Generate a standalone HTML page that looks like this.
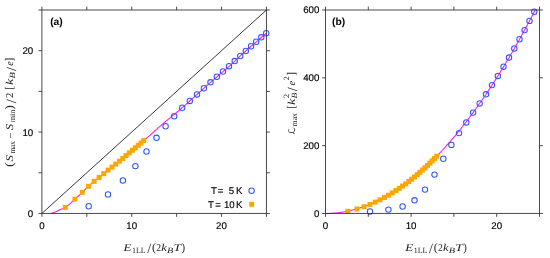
<!DOCTYPE html>
<html lang="en"><head><meta charset="utf-8"><title>Figure</title>
<style>html,body{margin:0;padding:0;background:#fff;}svg{display:block;}text{text-rendering:geometricPrecision;}.t{font-family:"Liberation Sans",sans-serif;font-size:9.7px;fill:#000;stroke:#000;stroke-width:0.15px;}.b{font-family:"Liberation Sans",sans-serif;font-size:10.3px;font-weight:bold;fill:#000;}.m{font-family:"Liberation Serif",serif;font-size:10.5px;fill:#222;}.i{font-style:italic;}.s{font-size:8px;}.p{font-size:11.7px;}.q{font-size:14px;}.c{font-family:"DejaVu Sans",sans-serif;font-size:9.5px;}</style></head><body>
<svg width="550" height="258" viewBox="0 0 550 258">
<rect width="550" height="258" fill="#ffffff"/>
<g>
<polyline points="51.2,213.4 52.1,213.1 53.0,212.8 53.9,212.5 54.8,212.2 55.7,211.8 56.6,211.4 57.5,211.0 58.4,210.5 59.3,210.1 60.2,209.7 61.1,209.3 62.0,208.9 62.9,208.6 63.8,208.2 64.7,207.7 65.6,207.2 66.5,206.6 67.4,205.9 68.3,205.2 69.2,204.5 70.1,203.7 71.0,202.9 71.9,202.0 72.8,201.2 73.7,200.4 74.6,199.6 75.5,198.8 76.3,198.0 77.2,197.1 78.1,196.3 79.0,195.5 79.9,194.6 80.8,193.8 81.7,192.9 82.6,192.1 83.5,191.2 84.4,190.3 85.3,189.4 86.2,188.5 87.1,187.7 88.0,186.8 88.9,186.0 89.8,185.2 90.7,184.4 91.6,183.6 92.5,182.8 93.4,182.0 94.3,181.3 95.2,180.5 96.1,179.8 97.0,179.1 97.9,178.4 98.8,177.7 99.7,177.0 100.6,176.2 101.5,175.5 102.4,174.8 103.3,174.1 104.1,173.3 105.0,172.6 105.9,171.8 106.8,171.0 107.7,170.3 108.6,169.6 109.5,168.9 110.4,168.3 111.3,167.6 112.2,166.9 113.1,166.2 114.0,165.5 114.9,164.8 115.8,164.1 116.7,163.3 117.6,162.6 118.5,161.9 119.4,161.2 120.3,160.4 121.2,159.7 122.1,159.0 123.0,158.2 123.9,157.5 124.8,156.7 125.7,156.0 126.6,155.2 127.5,154.5 128.4,153.7 129.3,153.0 130.2,152.2 131.0,151.4 131.9,150.7 132.8,149.9 133.7,149.1 134.6,148.4 135.5,147.6 136.4,146.8 137.3,146.1 138.2,145.3 139.1,144.5 140.0,143.8 140.9,143.0 141.8,142.2 142.7,141.5 143.6,140.7 144.5,139.9 145.4,139.2 146.3,138.4 147.2,137.6 148.1,136.8 149.0,136.1 149.9,135.3 150.8,134.5 151.7,133.7 152.6,132.9 153.5,132.1 154.4,131.3 155.3,130.5 156.2,129.7 157.1,128.9 157.9,128.1 158.8,127.4 159.7,126.6 160.6,125.8 161.5,125.0 162.4,124.2 163.3,123.5 164.2,122.7 165.1,121.9 166.0,121.2 166.9,120.4 167.8,119.6 168.7,118.9 169.6,118.2 170.5,117.4 171.4,116.7 172.3,115.9 173.2,115.2 174.1,114.5 175.0,113.7 175.9,113.0 176.8,112.2 177.7,111.5 178.6,110.8 179.5,110.0 180.4,109.2 181.3,108.5 182.2,107.7 183.1,106.9 184.0,106.2 184.9,105.4 185.7,104.6 186.6,103.8 187.5,103.0 188.4,102.2 189.3,101.4 190.2,100.5 191.1,99.7 192.0,98.9 192.9,98.1 193.8,97.3 194.7,96.5 195.6,95.6 196.5,94.8 197.4,94.0 198.3,93.2 199.2,92.4 200.1,91.6 201.0,90.8 201.9,90.0 202.8,89.2 203.7,88.4 204.6,87.6 205.5,86.8 206.4,86.0 207.3,85.2 208.2,84.4 209.1,83.7 210.0,82.9 210.9,82.1 211.8,81.3 212.6,80.6 213.5,79.8 214.4,79.0 215.3,78.3 216.2,77.5 217.1,76.7 218.0,76.0 218.9,75.2 219.8,74.4 220.7,73.6 221.6,72.9 222.5,72.1 223.4,71.3 224.3,70.5 225.2,69.7 226.1,69.0 227.0,68.2 227.9,67.4 228.8,66.6 229.7,65.8 230.6,65.0 231.5,64.1 232.4,63.3 233.3,62.5 234.2,61.7 235.1,60.9 236.0,60.0 236.9,59.2 237.8,58.4 238.7,57.5 239.5,56.7 240.4,55.9 241.3,55.0 242.2,54.2 243.1,53.4 244.0,52.6 244.9,51.8 245.8,51.0 246.7,50.2 247.6,49.4 248.5,48.6 249.4,47.8 250.3,47.0 251.2,46.2 252.1,45.5 253.0,44.7 253.9,43.9 254.8,43.1 255.7,42.4 256.6,41.6 257.5,40.8 258.4,40.1 259.3,39.3 260.2,38.5 261.1,37.7 262.0,37.0 262.9,36.2 263.8,35.4 264.7,34.6 265.6,33.8 266.4,33.0" fill="none" stroke="#ff14f0" stroke-width="1.05"/>
<line x1="41.9" y1="213.45" x2="266.45" y2="10.0" stroke="#222" stroke-width="0.9"/>
<circle cx="88.7" cy="206.2" r="2.7" fill="none" stroke="#2f55ff" stroke-width="1.05"/>
<circle cx="108.0" cy="194.4" r="2.7" fill="none" stroke="#2f55ff" stroke-width="1.05"/>
<circle cx="122.9" cy="180.5" r="2.7" fill="none" stroke="#2f55ff" stroke-width="1.05"/>
<circle cx="135.4" cy="166.1" r="2.7" fill="none" stroke="#2f55ff" stroke-width="1.05"/>
<circle cx="146.5" cy="151.5" r="2.7" fill="none" stroke="#2f55ff" stroke-width="1.05"/>
<circle cx="156.5" cy="137.8" r="2.7" fill="none" stroke="#2f55ff" stroke-width="1.05"/>
<circle cx="165.6" cy="126.2" r="2.7" fill="none" stroke="#2f55ff" stroke-width="1.05"/>
<circle cx="174.2" cy="116.2" r="2.7" fill="none" stroke="#2f55ff" stroke-width="1.05"/>
<circle cx="182.2" cy="107.7" r="2.7" fill="none" stroke="#2f55ff" stroke-width="1.05"/>
<circle cx="189.8" cy="100.9" r="2.7" fill="none" stroke="#2f55ff" stroke-width="1.05"/>
<circle cx="197.0" cy="94.4" r="2.7" fill="none" stroke="#2f55ff" stroke-width="1.05"/>
<circle cx="203.9" cy="88.2" r="2.7" fill="none" stroke="#2f55ff" stroke-width="1.05"/>
<circle cx="210.5" cy="82.3" r="2.7" fill="none" stroke="#2f55ff" stroke-width="1.05"/>
<circle cx="216.9" cy="76.7" r="2.7" fill="none" stroke="#2f55ff" stroke-width="1.05"/>
<circle cx="223.0" cy="71.5" r="2.7" fill="none" stroke="#2f55ff" stroke-width="1.05"/>
<circle cx="229.0" cy="66.2" r="2.7" fill="none" stroke="#2f55ff" stroke-width="1.05"/>
<circle cx="234.7" cy="61.1" r="2.7" fill="none" stroke="#2f55ff" stroke-width="1.05"/>
<circle cx="240.3" cy="56.0" r="2.7" fill="none" stroke="#2f55ff" stroke-width="1.05"/>
<circle cx="245.8" cy="51.0" r="2.7" fill="none" stroke="#2f55ff" stroke-width="1.05"/>
<circle cx="251.1" cy="46.2" r="2.7" fill="none" stroke="#2f55ff" stroke-width="1.05"/>
<circle cx="256.2" cy="41.7" r="2.7" fill="none" stroke="#2f55ff" stroke-width="1.05"/>
<circle cx="261.3" cy="37.3" r="2.7" fill="none" stroke="#2f55ff" stroke-width="1.05"/>
<circle cx="266.2" cy="33.2" r="2.7" fill="none" stroke="#2f55ff" stroke-width="1.05"/>
<rect x="62.8" y="204.9" width="5" height="5" fill="#ffa500"/>
<rect x="72.4" y="196.7" width="5" height="5" fill="#ffa500"/>
<rect x="79.8" y="189.8" width="5" height="5" fill="#ffa500"/>
<rect x="86.1" y="183.8" width="5" height="5" fill="#ffa500"/>
<rect x="91.6" y="178.9" width="5" height="5" fill="#ffa500"/>
<rect x="96.6" y="174.9" width="5" height="5" fill="#ffa500"/>
<rect x="101.2" y="171.2" width="5" height="5" fill="#ffa500"/>
<rect x="105.5" y="167.6" width="5" height="5" fill="#ffa500"/>
<rect x="109.5" y="164.6" width="5" height="5" fill="#ffa500"/>
<rect x="113.2" y="161.6" width="5" height="5" fill="#ffa500"/>
<rect x="116.9" y="158.7" width="5" height="5" fill="#ffa500"/>
<rect x="120.3" y="155.9" width="5" height="5" fill="#ffa500"/>
<rect x="123.6" y="153.1" width="5" height="5" fill="#ffa500"/>
<rect x="126.8" y="150.4" width="5" height="5" fill="#ffa500"/>
<rect x="129.8" y="147.8" width="5" height="5" fill="#ffa500"/>
<rect x="132.8" y="145.3" width="5" height="5" fill="#ffa500"/>
<rect x="135.7" y="142.8" width="5" height="5" fill="#ffa500"/>
<rect x="138.5" y="140.5" width="5" height="5" fill="#ffa500"/>
<rect x="141.2" y="138.1" width="5" height="5" fill="#ffa500"/>
<path d="M41.9 10.0H266.45V213.45H41.9ZM41.90 213.45v3.4M41.90 10.0v-3.4M86.81 213.45v3.4M86.81 10.0v-3.4M131.72 213.45v3.4M131.72 10.0v-3.4M176.63 213.45v3.4M176.63 10.0v-3.4M221.54 213.45v3.4M221.54 10.0v-3.4M266.45 213.45v3.4M266.45 10.0v-3.4M41.9 213.45h-3.4M266.45 213.45h3.4M41.9 172.76h-3.4M266.45 172.76h3.4M41.9 132.07h-3.4M266.45 132.07h3.4M41.9 91.38h-3.4M266.45 91.38h3.4M41.9 50.69h-3.4M266.45 50.69h3.4M41.9 10.00h-3.4M266.45 10.00h3.4" fill="none" stroke="#2a2a2a" stroke-width="0.85"/>
<text class="t" x="41.9" y="229.4" text-anchor="middle">0</text>
<text class="t" x="131.7" y="229.4" text-anchor="middle">10</text>
<text class="t" x="221.5" y="229.4" text-anchor="middle">20</text>
<text class="t" x="33.2" y="216.9" text-anchor="end">0</text>
<text class="t" x="33.2" y="135.5" text-anchor="end">10</text>
<text class="t" x="33.2" y="54.1" text-anchor="end">20</text>
<text class="b" x="50.2" y="24.6">(a)</text>
<text class="t" y="194.0"><tspan x="210.9">T</tspan> <tspan x="217.7">=</tspan> <tspan x="228.8">5</tspan> <tspan x="235.9">K</tspan></text>
<text class="t" y="207.6"><tspan x="207.9">T</tspan> <tspan x="215.3">=</tspan> <tspan x="223.9">10</tspan> <tspan x="235.9">K</tspan></text>
<circle cx="251.6" cy="190.7" r="2.7" fill="none" stroke="#2f55ff" stroke-width="1.05"/>
<rect x="249.2" y="201.8" width="5" height="5" fill="#ffa500"/>
<g transform="translate(0.0 250.5)">
<text class="m i" x="123.5" y="0.0" textLength="8.0" lengthAdjust="spacingAndGlyphs">E</text>
<text class="m s" x="132.0" y="2.0" textLength="13.6" lengthAdjust="spacingAndGlyphs">1LL</text>
<text class="m q" x="149.2" y="2.3" text-anchor="middle">/</text>
<text class="m p" x="152.0" y="0.0" textLength="4.0" lengthAdjust="spacingAndGlyphs">(</text>
<text class="m" x="156.2" y="0.0" textLength="4.8" lengthAdjust="spacingAndGlyphs">2</text>
<text class="m i" x="161.2" y="0.0" textLength="5.6" lengthAdjust="spacingAndGlyphs">k</text>
<text class="m s i" x="167.0" y="2.0" textLength="6.3" lengthAdjust="spacingAndGlyphs">B</text>
<text class="m i" x="173.6" y="0.0" textLength="7.6" lengthAdjust="spacingAndGlyphs">T</text>
<text class="m p" x="181.6" y="0.0" textLength="3.6" lengthAdjust="spacingAndGlyphs">)</text>
</g>
<g transform="translate(13.2 166.8) rotate(-90)">
<text class="m p" x="-0.2" y="0.0" textLength="4.8" lengthAdjust="spacingAndGlyphs">(</text>
<text class="m i" x="5.3" y="0.0" textLength="6.4" lengthAdjust="spacingAndGlyphs">S</text>
<text class="m s" x="13.2" y="2.0" textLength="12.6" lengthAdjust="spacingAndGlyphs">max</text>
<text class="m" x="28.4" y="1.2" textLength="6.0" lengthAdjust="spacingAndGlyphs">−</text>
<text class="m i" x="36.6" y="0.0" textLength="6.4" lengthAdjust="spacingAndGlyphs">S</text>
<text class="m s" x="44.6" y="2.0" textLength="12.6" lengthAdjust="spacingAndGlyphs">min</text>
<text class="m p" x="57.4" y="0.0" textLength="4.4" lengthAdjust="spacingAndGlyphs">)</text>
<text class="m q" x="65.5" y="2.3" text-anchor="middle">/</text>
<text class="m" x="68.9" y="0.0" textLength="5.3" lengthAdjust="spacingAndGlyphs">2</text>
<text class="m p" x="77.4" y="0.0" textLength="3.4" lengthAdjust="spacingAndGlyphs">[</text>
<text class="m i" x="81.7" y="0.0" textLength="6.3" lengthAdjust="spacingAndGlyphs">k</text>
<text class="m s i" x="88.3" y="2.0" textLength="6.4" lengthAdjust="spacingAndGlyphs">B</text>
<text class="m q" x="97.8" y="2.3" text-anchor="middle">/</text>
<text class="m i" x="101.1" y="0.0" textLength="4.5" lengthAdjust="spacingAndGlyphs">e</text>
<text class="m p" x="105.6" y="0.0" textLength="3.4" lengthAdjust="spacingAndGlyphs">]</text>
</g>
</g>
<g>
<polyline points="325.5,213.4 326.4,213.4 327.2,213.4 328.1,213.4 329.0,213.4 329.9,213.4 330.7,213.3 331.6,213.3 332.5,213.2 333.4,213.2 334.2,213.1 335.1,213.0 336.0,212.9 336.9,212.9 337.7,212.8 338.6,212.7 339.5,212.5 340.4,212.4 341.2,212.3 342.1,212.2 343.0,212.0 343.8,211.9 344.7,211.7 345.6,211.6 346.5,211.4 347.3,211.2 348.2,211.1 349.1,210.9 350.0,210.7 350.8,210.5 351.7,210.3 352.6,210.1 353.5,209.8 354.3,209.6 355.2,209.4 356.1,209.1 357.0,208.9 357.8,208.6 358.7,208.3 359.6,208.1 360.4,207.8 361.3,207.5 362.2,207.2 363.1,206.9 363.9,206.6 364.8,206.3 365.7,206.0 366.6,205.6 367.4,205.3 368.3,205.0 369.2,204.6 370.1,204.3 370.9,203.9 371.8,203.5 372.7,203.2 373.6,202.8 374.4,202.4 375.3,202.0 376.2,201.6 377.0,201.2 377.9,200.7 378.8,200.3 379.7,199.9 380.5,199.4 381.4,199.0 382.3,198.5 383.2,198.1 384.0,197.6 384.9,197.1 385.8,196.6 386.7,196.1 387.5,195.6 388.4,195.1 389.3,194.6 390.2,194.1 391.0,193.6 391.9,193.0 392.8,192.5 393.6,192.0 394.5,191.4 395.4,190.8 396.3,190.3 397.1,189.7 398.0,189.1 398.9,188.5 399.8,187.9 400.6,187.3 401.5,186.7 402.4,186.1 403.3,185.5 404.1,184.8 405.0,184.2 405.9,183.6 406.7,182.9 407.6,182.2 408.5,181.6 409.4,180.9 410.2,180.2 411.1,179.5 412.0,178.8 412.9,178.1 413.7,177.4 414.6,176.7 415.5,176.0 416.4,175.2 417.2,174.5 418.1,173.8 419.0,173.0 419.9,172.3 420.7,171.5 421.6,170.7 422.5,169.9 423.3,169.1 424.2,168.3 425.1,167.5 426.0,166.7 426.8,165.9 427.7,165.1 428.6,164.3 429.5,163.4 430.3,162.6 431.2,161.7 432.1,160.9 433.0,160.0 433.8,159.1 434.7,158.3 435.6,157.4 436.5,156.5 437.3,155.6 438.2,154.7 439.1,153.8 439.9,152.8 440.8,151.9 441.7,151.0 442.6,150.0 443.4,149.1 444.3,148.1 445.2,147.2 446.1,146.2 446.9,145.2 447.8,144.2 448.7,143.2 449.6,142.2 450.4,141.2 451.3,140.2 452.2,139.2 453.1,138.2 453.9,137.1 454.8,136.1 455.7,135.0 456.5,134.0 457.4,132.9 458.3,131.8 459.2,130.8 460.0,129.7 460.9,128.6 461.8,127.5 462.7,126.4 463.5,125.3 464.4,124.2 465.3,123.0 466.2,121.9 467.0,120.8 467.9,119.6 468.8,118.4 469.7,117.3 470.5,116.1 471.4,114.9 472.3,113.8 473.1,112.6 474.0,111.4 474.9,110.2 475.8,109.0 476.6,107.7 477.5,106.5 478.4,105.3 479.3,104.0 480.1,102.8 481.0,101.5 481.9,100.3 482.8,99.0 483.6,97.7 484.5,96.5 485.4,95.2 486.3,93.9 487.1,92.6 488.0,91.3 488.9,89.9 489.7,88.6 490.6,87.3 491.5,85.9 492.4,84.6 493.2,83.2 494.1,81.9 495.0,80.5 495.9,79.1 496.7,77.8 497.6,76.4 498.5,75.0 499.4,73.6 500.2,72.2 501.1,70.7 502.0,69.3 502.9,67.9 503.7,66.5 504.6,65.0 505.5,63.6 506.3,62.1 507.2,60.6 508.1,59.2 509.0,57.7 509.8,56.2 510.7,54.7 511.6,53.2 512.5,51.7 513.3,50.2 514.2,48.7 515.1,47.1 516.0,45.6 516.8,44.0 517.7,42.5 518.6,40.9 519.5,39.4 520.3,37.8 521.2,36.2 522.1,34.6 522.9,33.0 523.8,31.4 524.7,29.8 525.6,28.2 526.4,26.6 527.3,25.0 528.2,23.3 529.1,21.7 529.9,20.0 530.8,18.4 531.7,16.7 532.6,15.1 533.4,13.4 534.3,11.7 535.2,10.0" fill="none" stroke="#ff14f0" stroke-width="1.05"/>
<circle cx="370.0" cy="211.5" r="2.7" fill="none" stroke="#2f55ff" stroke-width="1.05"/>
<circle cx="388.4" cy="209.6" r="2.7" fill="none" stroke="#2f55ff" stroke-width="1.05"/>
<circle cx="402.6" cy="206.5" r="2.7" fill="none" stroke="#2f55ff" stroke-width="1.05"/>
<circle cx="414.5" cy="200.3" r="2.7" fill="none" stroke="#2f55ff" stroke-width="1.05"/>
<circle cx="425.0" cy="189.6" r="2.7" fill="none" stroke="#2f55ff" stroke-width="1.05"/>
<circle cx="434.5" cy="174.6" r="2.7" fill="none" stroke="#2f55ff" stroke-width="1.05"/>
<circle cx="443.3" cy="158.7" r="2.7" fill="none" stroke="#2f55ff" stroke-width="1.05"/>
<circle cx="451.4" cy="144.9" r="2.7" fill="none" stroke="#2f55ff" stroke-width="1.05"/>
<circle cx="459.0" cy="133.1" r="2.7" fill="none" stroke="#2f55ff" stroke-width="1.05"/>
<circle cx="466.3" cy="122.4" r="2.7" fill="none" stroke="#2f55ff" stroke-width="1.05"/>
<circle cx="473.1" cy="112.6" r="2.7" fill="none" stroke="#2f55ff" stroke-width="1.05"/>
<circle cx="479.7" cy="103.4" r="2.7" fill="none" stroke="#2f55ff" stroke-width="1.05"/>
<circle cx="486.0" cy="94.3" r="2.7" fill="none" stroke="#2f55ff" stroke-width="1.05"/>
<circle cx="492.0" cy="85.1" r="2.7" fill="none" stroke="#2f55ff" stroke-width="1.05"/>
<circle cx="497.9" cy="75.9" r="2.7" fill="none" stroke="#2f55ff" stroke-width="1.05"/>
<circle cx="503.5" cy="66.7" r="2.7" fill="none" stroke="#2f55ff" stroke-width="1.05"/>
<circle cx="509.0" cy="57.6" r="2.7" fill="none" stroke="#2f55ff" stroke-width="1.05"/>
<circle cx="514.3" cy="48.4" r="2.7" fill="none" stroke="#2f55ff" stroke-width="1.05"/>
<circle cx="519.5" cy="39.2" r="2.7" fill="none" stroke="#2f55ff" stroke-width="1.05"/>
<circle cx="524.6" cy="30.1" r="2.7" fill="none" stroke="#2f55ff" stroke-width="1.05"/>
<circle cx="529.5" cy="20.9" r="2.7" fill="none" stroke="#2f55ff" stroke-width="1.05"/>
<circle cx="534.3" cy="11.7" r="2.7" fill="none" stroke="#2f55ff" stroke-width="1.05"/>
<rect x="345.3" y="208.8" width="5" height="5" fill="#ffa500"/>
<rect x="354.5" y="206.5" width="5" height="5" fill="#ffa500"/>
<rect x="361.5" y="204.2" width="5" height="5" fill="#ffa500"/>
<rect x="367.5" y="201.9" width="5" height="5" fill="#ffa500"/>
<rect x="372.8" y="199.6" width="5" height="5" fill="#ffa500"/>
<rect x="377.5" y="197.3" width="5" height="5" fill="#ffa500"/>
<rect x="381.9" y="195.0" width="5" height="5" fill="#ffa500"/>
<rect x="385.9" y="192.7" width="5" height="5" fill="#ffa500"/>
<rect x="389.8" y="190.4" width="5" height="5" fill="#ffa500"/>
<rect x="393.4" y="188.1" width="5" height="5" fill="#ffa500"/>
<rect x="396.8" y="185.8" width="5" height="5" fill="#ffa500"/>
<rect x="400.1" y="183.5" width="5" height="5" fill="#ffa500"/>
<rect x="403.2" y="181.3" width="5" height="5" fill="#ffa500"/>
<rect x="406.3" y="179.0" width="5" height="5" fill="#ffa500"/>
<rect x="409.2" y="176.7" width="5" height="5" fill="#ffa500"/>
<rect x="412.0" y="174.4" width="5" height="5" fill="#ffa500"/>
<rect x="414.8" y="172.1" width="5" height="5" fill="#ffa500"/>
<rect x="417.4" y="169.8" width="5" height="5" fill="#ffa500"/>
<rect x="420.0" y="167.5" width="5" height="5" fill="#ffa500"/>
<rect x="422.5" y="165.2" width="5" height="5" fill="#ffa500"/>
<rect x="425.0" y="162.9" width="5" height="5" fill="#ffa500"/>
<rect x="427.4" y="160.6" width="5" height="5" fill="#ffa500"/>
<rect x="429.7" y="158.3" width="5" height="5" fill="#ffa500"/>
<rect x="432.0" y="156.0" width="5" height="5" fill="#ffa500"/>
<rect x="434.3" y="153.7" width="5" height="5" fill="#ffa500"/>
<path d="M325.5 10.0H539.5V213.45H325.5ZM325.50 213.45v3.4M325.50 10.0v-3.4M368.30 213.45v3.4M368.30 10.0v-3.4M411.10 213.45v3.4M411.10 10.0v-3.4M453.90 213.45v3.4M453.90 10.0v-3.4M496.70 213.45v3.4M496.70 10.0v-3.4M539.50 213.45v3.4M539.50 10.0v-3.4M325.5 213.45h-3.4M539.5 213.45h3.4M325.5 145.63h-3.4M539.5 145.63h3.4M325.5 77.82h-3.4M539.5 77.82h3.4M325.5 10.00h-3.4M539.5 10.00h3.4" fill="none" stroke="#2a2a2a" stroke-width="0.85"/>
<text class="t" x="325.5" y="229.4" text-anchor="middle">0</text>
<text class="t" x="411.1" y="229.4" text-anchor="middle">10</text>
<text class="t" x="496.7" y="229.4" text-anchor="middle">20</text>
<text class="t" x="319.4" y="216.9" text-anchor="end">0</text>
<text class="t" x="319.4" y="149.1" text-anchor="end">200</text>
<text class="t" x="319.4" y="81.3" text-anchor="end">400</text>
<text class="t" x="319.4" y="13.4" text-anchor="end">600</text>
<text class="b" x="332.0" y="24.6">(b)</text>
<g transform="translate(281.7 250.5)">
<text class="m i" x="123.5" y="0.0" textLength="8.0" lengthAdjust="spacingAndGlyphs">E</text>
<text class="m s" x="132.0" y="2.0" textLength="13.6" lengthAdjust="spacingAndGlyphs">1LL</text>
<text class="m q" x="149.2" y="2.3" text-anchor="middle">/</text>
<text class="m p" x="152.0" y="0.0" textLength="4.0" lengthAdjust="spacingAndGlyphs">(</text>
<text class="m" x="156.2" y="0.0" textLength="4.8" lengthAdjust="spacingAndGlyphs">2</text>
<text class="m i" x="161.2" y="0.0" textLength="5.6" lengthAdjust="spacingAndGlyphs">k</text>
<text class="m s i" x="167.0" y="2.0" textLength="6.3" lengthAdjust="spacingAndGlyphs">B</text>
<text class="m i" x="173.6" y="0.0" textLength="7.6" lengthAdjust="spacingAndGlyphs">T</text>
<text class="m p" x="181.6" y="0.0" textLength="3.6" lengthAdjust="spacingAndGlyphs">)</text>
</g>
<g transform="translate(294.5 134.4) rotate(-90)">
<text class="m c" x="-0.2" y="0.0" textLength="7.2" lengthAdjust="spacingAndGlyphs">ℒ</text>
<text class="m s" x="8.0" y="2.0" textLength="13.4" lengthAdjust="spacingAndGlyphs">max</text>
<text class="m p" x="25.8" y="0.0" textLength="3.4" lengthAdjust="spacingAndGlyphs">[</text>
<text class="m i" x="29.5" y="0.0" textLength="6.3" lengthAdjust="spacingAndGlyphs">k</text>
<text class="m s" x="36.2" y="-5.2" textLength="4.4" lengthAdjust="spacingAndGlyphs">2</text>
<text class="m s i" x="35.8" y="2.0" textLength="5.8" lengthAdjust="spacingAndGlyphs">B</text>
<text class="m q" x="45.1" y="2.3" text-anchor="middle">/</text>
<text class="m i" x="48.9" y="0.0" textLength="4.7" lengthAdjust="spacingAndGlyphs">e</text>
<text class="m s" x="54.1" y="-5.2" textLength="4.0" lengthAdjust="spacingAndGlyphs">2</text>
<text class="m p" x="59.0" y="0.0" textLength="3.4" lengthAdjust="spacingAndGlyphs">]</text>
</g>
</g>
</svg></body></html>
